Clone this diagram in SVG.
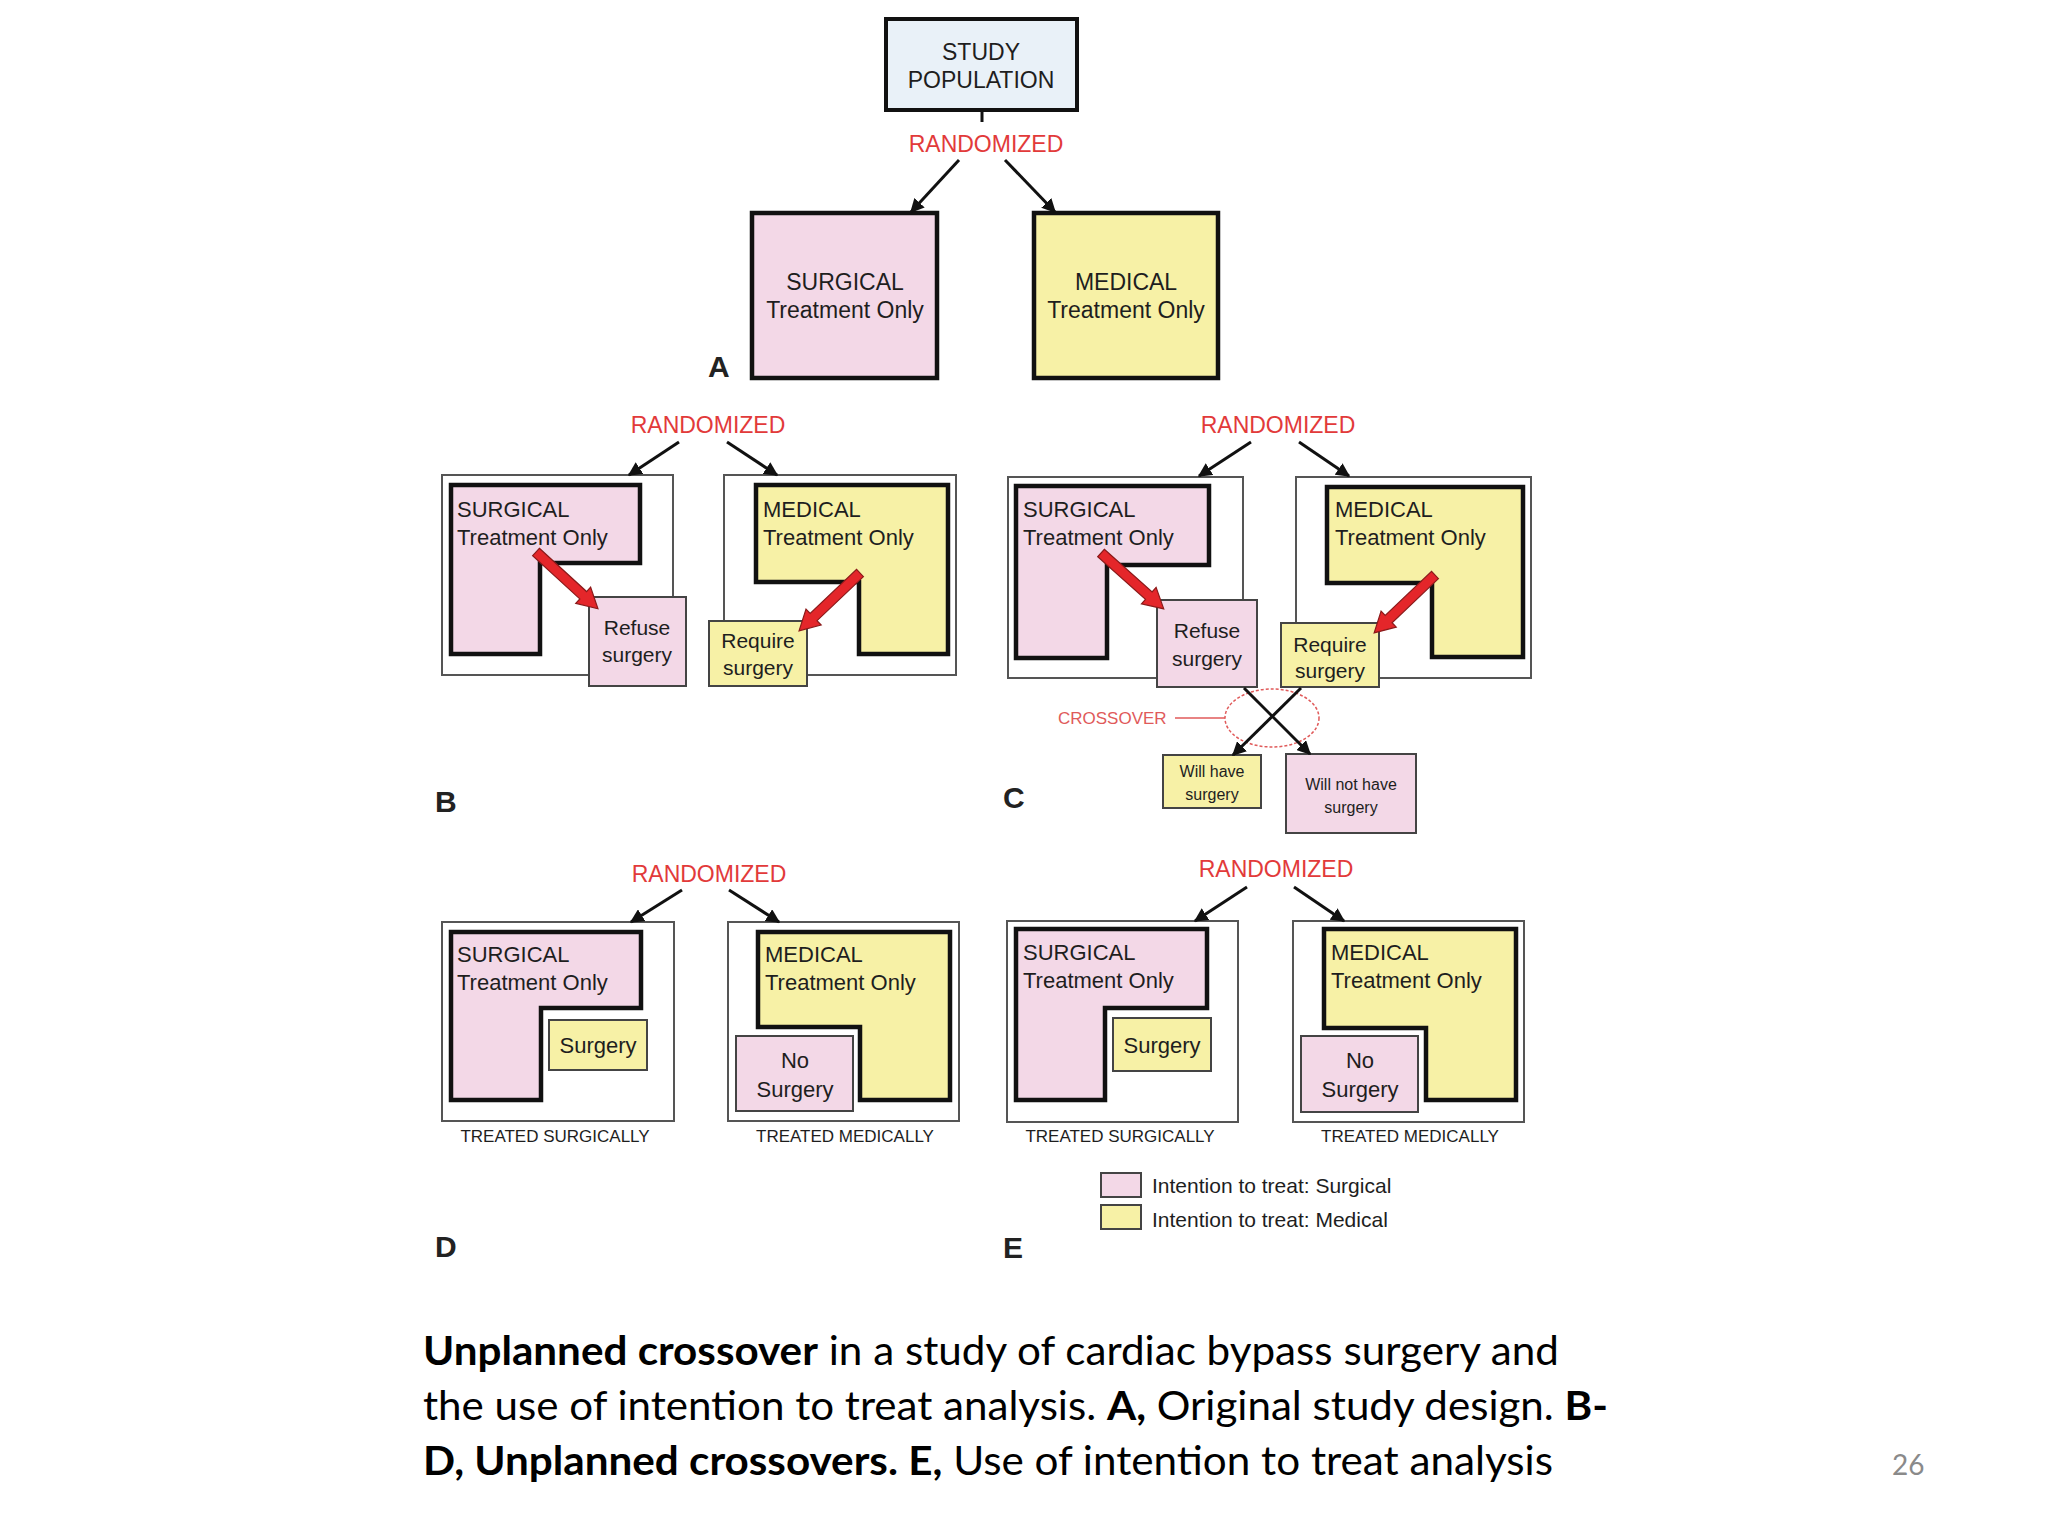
<svg xmlns="http://www.w3.org/2000/svg" width="2048" height="1536" viewBox="0 0 2048 1536">
<style>
.t{font-family:"Liberation Sans",Arial,sans-serif;fill:#1e1e1e}
.rnd{font-family:"Liberation Sans",Arial,sans-serif;fill:#e23a3a;font-size:23px;text-anchor:middle}
.lab{font-family:"Liberation Sans",Arial,sans-serif;font-weight:bold;font-size:30px;fill:#222}
.outer{fill:#fff;stroke:#555;stroke-width:2}
.surg{fill:#f3d8e7;stroke:#111;stroke-width:4.5}
.med{fill:#f7f1a6;stroke:#111;stroke-width:4.5}
.sp{fill:#f3d8e7;stroke:#444;stroke-width:2}
.sy{fill:#f7f1a6;stroke:#444;stroke-width:2}
.conn{stroke:#111;stroke-width:3;fill:none}
.in{font-size:22px}
.cap{font-family:Lato,"Open Sans",sans-serif;font-size:40px;fill:#000}
</style>
<defs>
<marker id="ah" markerUnits="userSpaceOnUse" markerWidth="14" markerHeight="14" viewBox="0 0 10 10" refX="9" refY="5" orient="auto">
<path d="M0,0 L10,5 L0,10 z" fill="#111"/>
</marker>
<path id="redArrow" d="M0,-5 H64 V-11 L84,0 L64,11 V5 H0 Z" fill="#e4262a" stroke="#8a1a1a" stroke-width="1.2"/>
</defs>
<rect width="2048" height="1536" fill="#fff"/>

<!-- Panel A -->
<g id="study-population">
<rect x="886" y="19" width="191" height="91" fill="#e9f1f8" stroke="#111" stroke-width="4"/>
<text class="t" x="981" y="60" font-size="23" text-anchor="middle">STUDY</text>
<text class="t" x="981" y="88" font-size="23" text-anchor="middle">POPULATION</text>
</g>
<text class="rnd" x="986" y="152">RANDOMIZED</text>
<g id="a-surgical">
<rect x="752" y="213" width="185" height="165" class="surg"/>
<text class="t" x="845" y="290" font-size="23" text-anchor="middle">SURGICAL</text>
<text class="t" x="845" y="318" font-size="23" text-anchor="middle">Treatment Only</text>
</g>
<g id="a-medical">
<rect x="1034" y="213" width="184" height="165" class="med"/>
<text class="t" x="1126" y="290" font-size="23" text-anchor="middle">MEDICAL</text>
<text class="t" x="1126" y="318" font-size="23" text-anchor="middle">Treatment Only</text>
</g>
<text class="lab" x="708" y="377">A</text>

<!-- Panel B -->
<text class="rnd" x="708" y="433">RANDOMIZED</text>
<g id="b-surgical">
<rect x="442" y="475" width="231" height="200" class="outer"/>
<path d="M451,485 H640 V563 H540 V654 H451 Z" class="surg"/>
<text class="t in" x="457" y="517">SURGICAL</text>
<text class="t in" x="457" y="545">Treatment Only</text>
</g>
<g id="b-refuse">
<rect x="589" y="597" width="97" height="89" class="sp"/>
<text class="t" x="637" y="635" font-size="21" text-anchor="middle">Refuse</text>
<text class="t" x="637" y="662" font-size="21" text-anchor="middle">surgery</text>
</g>
<g id="b-medical">
<rect x="724" y="475" width="232" height="200" class="outer"/>
<path d="M756,485 H948 V654 H859 V582 H756 Z" class="med"/>
<text class="t in" x="763" y="517">MEDICAL</text>
<text class="t in" x="763" y="545">Treatment Only</text>
</g>
<g id="b-require">
<rect x="709" y="621" width="98" height="65" class="sy"/>
<text class="t" x="758" y="648" font-size="21" text-anchor="middle">Require</text>
<text class="t" x="758" y="675" font-size="21" text-anchor="middle">surgery</text>
</g>
<text class="lab" x="435" y="812">B</text>

<!-- Panel C -->
<text class="rnd" x="1278" y="433">RANDOMIZED</text>
<g id="c-surgical">
<rect x="1008" y="477" width="235" height="201" class="outer"/>
<path d="M1016,486 H1209 V565 H1107 V658 H1016 Z" class="surg"/>
<text class="t in" x="1023" y="517">SURGICAL</text>
<text class="t in" x="1023" y="545">Treatment Only</text>
</g>
<g id="c-refuse">
<rect x="1157" y="600" width="100" height="87" class="sp"/>
<text class="t" x="1207" y="638" font-size="21" text-anchor="middle">Refuse</text>
<text class="t" x="1207" y="666" font-size="21" text-anchor="middle">surgery</text>
</g>
<g id="c-medical">
<rect x="1296" y="477" width="235" height="201" class="outer"/>
<path d="M1327,487 H1523 V657 H1432 V583 H1327 Z" class="med"/>
<text class="t in" x="1335" y="517">MEDICAL</text>
<text class="t in" x="1335" y="545">Treatment Only</text>
</g>
<g id="c-require">
<rect x="1281" y="623" width="98" height="64" class="sy"/>
<text class="t" x="1330" y="652" font-size="21" text-anchor="middle">Require</text>
<text class="t" x="1330" y="678" font-size="21" text-anchor="middle">surgery</text>
</g>
<g id="c-crossover">
<ellipse cx="1272" cy="718" rx="47" ry="29" fill="none" stroke="#e05a5a" stroke-width="1.5" stroke-dasharray="3,2"/>
<text x="1058" y="724" font-family="Liberation Sans,Arial,sans-serif" font-size="17" fill="#e05a5a">CROSSOVER</text>
<line x1="1175" y1="718" x2="1225" y2="718" stroke="#e05a5a" stroke-width="1.5"/>
</g>
<g id="c-will-have">
<rect x="1163" y="755" width="98" height="53" class="sy"/>
<text class="t" x="1212" y="777" font-size="16" text-anchor="middle">Will have</text>
<text class="t" x="1212" y="800" font-size="16" text-anchor="middle">surgery</text>
</g>
<g id="c-will-not-have">
<rect x="1286" y="754" width="130" height="79" class="sp"/>
<text class="t" x="1351" y="790" font-size="16" text-anchor="middle">Will not have</text>
<text class="t" x="1351" y="813" font-size="16" text-anchor="middle">surgery</text>
</g>
<text class="lab" x="1003" y="808">C</text>

<!-- Panel D -->
<text class="rnd" x="709" y="882">RANDOMIZED</text>
<g id="d-surgical">
<rect x="442" y="922" width="232" height="199" class="outer"/>
<path d="M451,932 H641 V1008 H541 V1100 H451 Z" class="surg"/>
<text class="t in" x="457" y="962">SURGICAL</text>
<text class="t in" x="457" y="990">Treatment Only</text>
<text class="t" x="555" y="1142" font-size="17" text-anchor="middle">TREATED SURGICALLY</text>
</g>
<g id="d-surgery">
<rect x="549" y="1020" width="98" height="50" class="sy"/>
<text class="t" x="598" y="1053" font-size="22" text-anchor="middle">Surgery</text>
</g>
<g id="d-medical">
<rect x="728" y="922" width="231" height="199" class="outer"/>
<path d="M758,932 H950 V1100 H860 V1027 H758 Z" class="med"/>
<text class="t in" x="765" y="962">MEDICAL</text>
<text class="t in" x="765" y="990">Treatment Only</text>
<text class="t" x="845" y="1142" font-size="17" text-anchor="middle">TREATED MEDICALLY</text>
</g>
<g id="d-no-surgery">
<rect x="736" y="1036" width="117" height="75" class="sp"/>
<text class="t" x="795" y="1068" font-size="22" text-anchor="middle">No</text>
<text class="t" x="795" y="1097" font-size="22" text-anchor="middle">Surgery</text>
</g>
<text class="lab" x="435" y="1257">D</text>

<!-- Panel E -->
<text class="rnd" x="1276" y="877">RANDOMIZED</text>
<g id="e-surgical">
<rect x="1007" y="921" width="231" height="201" class="outer"/>
<path d="M1016,929 H1207 V1008 H1105 V1100 H1016 Z" class="surg"/>
<text class="t in" x="1023" y="960">SURGICAL</text>
<text class="t in" x="1023" y="988">Treatment Only</text>
<text class="t" x="1120" y="1142" font-size="17" text-anchor="middle">TREATED SURGICALLY</text>
</g>
<g id="e-surgery">
<rect x="1113" y="1018" width="98" height="53" class="sy"/>
<text class="t" x="1162" y="1053" font-size="22" text-anchor="middle">Surgery</text>
</g>
<g id="e-medical">
<rect x="1293" y="921" width="231" height="201" class="outer"/>
<path d="M1324,929 H1516 V1100 H1426 V1028 H1324 Z" class="med"/>
<text class="t in" x="1331" y="960">MEDICAL</text>
<text class="t in" x="1331" y="988">Treatment Only</text>
<text class="t" x="1410" y="1142" font-size="17" text-anchor="middle">TREATED MEDICALLY</text>
</g>
<g id="e-no-surgery">
<rect x="1301" y="1036" width="117" height="76" class="sp"/>
<text class="t" x="1360" y="1068" font-size="22" text-anchor="middle">No</text>
<text class="t" x="1360" y="1097" font-size="22" text-anchor="middle">Surgery</text>
</g>
<g id="legend">
<rect x="1101" y="1173" width="40" height="24" class="sp"/>
<rect x="1101" y="1205" width="40" height="24" class="sy"/>
<text class="t" x="1152" y="1193" font-size="21">Intention to treat: Surgical</text>
<text class="t" x="1152" y="1227" font-size="21">Intention to treat: Medical</text>
</g>
<text class="lab" x="1003" y="1258">E</text>

<!-- Connectors -->
<g id="connectors">
<line x1="982" y1="110" x2="982" y2="122" class="conn"/>
<line x1="959" y1="160" x2="911" y2="212" class="conn" marker-end="url(#ah)"/>
<line x1="1005" y1="160" x2="1055" y2="212" class="conn" marker-end="url(#ah)"/>
<line x1="679" y1="442" x2="629" y2="475" class="conn" marker-end="url(#ah)"/>
<line x1="727" y1="442" x2="777" y2="475" class="conn" marker-end="url(#ah)"/>
<line x1="1251" y1="442" x2="1199" y2="476" class="conn" marker-end="url(#ah)"/>
<line x1="1299" y1="442" x2="1349" y2="476" class="conn" marker-end="url(#ah)"/>
<line x1="682" y1="890" x2="631" y2="922" class="conn" marker-end="url(#ah)"/>
<line x1="729" y1="890" x2="779" y2="922" class="conn" marker-end="url(#ah)"/>
<line x1="1247" y1="887" x2="1195" y2="921" class="conn" marker-end="url(#ah)"/>
<line x1="1294" y1="887" x2="1344" y2="921" class="conn" marker-end="url(#ah)"/>
<line x1="1244" y1="688" x2="1310" y2="754" class="conn" marker-end="url(#ah)"/>
<line x1="1301" y1="688" x2="1233" y2="755" class="conn" marker-end="url(#ah)"/>
<use href="#redArrow" transform="translate(536,552) rotate(42.5)"/>
<use href="#redArrow" transform="translate(860,573) rotate(136.5)"/>
<use href="#redArrow" transform="translate(1101,553) rotate(41.7)"/>
<use href="#redArrow" transform="translate(1435,575) rotate(136.4)"/>
</g>

<!-- Caption -->
<text class="cap" x="423" y="1365" textLength="1136" lengthAdjust="spacingAndGlyphs"><tspan font-weight="bold">Unplanned crossover</tspan> in a study of cardiac bypass surgery and</text>
<text class="cap" x="423" y="1420" textLength="1185" lengthAdjust="spacingAndGlyphs">the use of intention to treat analysis. <tspan font-weight="bold">A,</tspan> Original study design. <tspan font-weight="bold">B-</tspan></text>
<text class="cap" x="423" y="1475" textLength="1130" lengthAdjust="spacingAndGlyphs"><tspan font-weight="bold">D, Unplanned crossovers. E,</tspan> Use of intention to treat analysis</text>
<text x="1892" y="1475" font-family="Lato,'Open Sans',sans-serif" font-size="28" fill="#8a8a8a">26</text>
</svg>
